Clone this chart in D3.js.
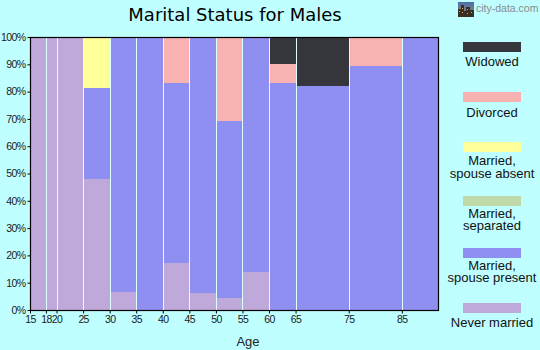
<!DOCTYPE html>
<html>
<head>
<meta charset="utf-8">
<script src="https://cdn.jsdelivr.net/npm/d3@7"></script>
<style>
html,body{margin:0;padding:0;background:#bfffff;}
svg{display:block;}
</style>
</head>
<body>
<script>
// ---- data ----
const groupLabels = ["15-17","18-19","20-24","25-29","30-34","35-39","40-44","45-49","50-54","55-59","60-64","65-74","75-84","85+"];
const groupStarts = [15,18,20,25,30,35,40,45,50,55,60,65,75,85];
const xEnd = 92;
const xTicks = [15,18,20,25,30,35,40,45,50,55,60,65,75,85];
const yTicks = [0,10,20,30,40,50,60,70,80,90,100];

const neverMarried  = [100,100,100,48,6.6,0,17.2,6.2,4.4,13.9,0,0,0,0];
const spousePresent = [0,0,0,33.4,93.4,100,66.1,93.8,64.9,86.1,83.3,82.2,89.5,100];
const separated     = [0,0,0,0,0,0,0,0,0,0,0,0,0,0];
const spouseAbsent  = [0,0,0,18.6,0,0,0,0,0,0,0,0,0,0];
const divorced      = [0,0,0,0,0,0,16.7,0,30.7,0,6.9,0,10.5,0];
const widowed       = [0,0,0,0,0,0,0,0,0,0,9.8,17.8,0,0];

const seriesNames = ["Never married","Married, spouse present","Married, separated","Married, spouse absent","Divorced","Widowed"];
const seriesColors = ["#bfa8da","#8f8ff2","#bfd9a8","#ffff99","#f9b2b2","#36373c"];
const seriesValues = [neverMarried, spousePresent, separated, spouseAbsent, divorced, widowed];

// ---- layout ----
const W = 540, H = 350;
const L = 30, R = 439, T = 37, B = 310;

const svg = d3.select("body").append("svg").attr("width", W).attr("height", H);
svg.append("rect").attr("width", W).attr("height", H).attr("fill", "#bfffff");

const x = d3.scaleLinear().domain([15, xEnd]).range([L, R]);
const y = d3.scaleLinear().domain([0, 100]).range([B, T]);

const rows = groupLabels.map((g, i) => {
  const o = {group: g, x0: groupStarts[i], x1: i < groupStarts.length - 1 ? groupStarts[i+1] : xEnd};
  seriesNames.forEach((s, k) => o[s] = seriesValues[k][i]);
  return o;
});
const stack = d3.stack().keys(seriesNames)(rows);

const plot = svg.append("g");
stack.forEach((layer, k) => {
  plot.selectAll(null).data(layer).enter().append("rect")
    .attr("x", d => x(d.data.x0))
    .attr("width", d => x(d.data.x1) - x(d.data.x0))
    .attr("y", d => y(d[1]))
    .attr("height", d => Math.max(0, y(d[0]) - y(d[1])))
    .attr("fill", seriesColors[k])
    .attr("shape-rendering", "crispEdges");
});

// separators
plot.selectAll(null).data(groupStarts.slice(1)).enter().append("line")
  .attr("x1", d => Math.round(x(d)) + 0.5).attr("x2", d => Math.round(x(d)) + 0.5)
  .attr("y1", T).attr("y2", B)
  .attr("stroke", "#dcffff").attr("stroke-width", 1);

// frame
svg.append("rect").attr("x", L + 0.5).attr("y", T + 0.5).attr("width", R - L - 1).attr("height", B - T)
  .attr("fill", "none").attr("stroke", "#000").attr("stroke-width", 1.2);

// axes
const fontTick = "'Liberation Sans', Arial, sans-serif";
const xAxis = svg.append("g").attr("transform", `translate(0,${B + 0.5})`)
  .call(d3.axisBottom(x).tickValues(xTicks).tickSize(3).tickPadding(2).tickFormat(d3.format("d")));
const yAxis = svg.append("g").attr("transform", `translate(${L + 0.5},0)`)
  .call(d3.axisLeft(y).tickValues(yTicks).tickSize(3).tickPadding(2).tickFormat(d => d + "%"));
[xAxis, yAxis].forEach(a => {
  a.select(".domain").remove();
  a.selectAll("line").attr("stroke", "#000");
  a.selectAll("text").attr("fill", "#1a1a1a").style("font-family", fontTick)
    .style("font-size", "10.5px").style("letter-spacing", "-0.6px");
});

// title
svg.append("text").attr("x", 235).attr("y", 21).attr("text-anchor", "middle")
  .style("font-family", "'DejaVu Sans', Verdana, sans-serif").style("font-size", "18px")
  .attr("fill", "#000").text("Marital Status for Males");

// x label
svg.append("text").attr("x", 248).attr("y", 346).attr("text-anchor", "middle")
  .style("font-family", fontTick).style("font-size", "13px").attr("fill", "#222").text("Age");

// legend
const legendItems = [
  {k: 5, ry: 42, lines: ["Widowed"], ty: 66},
  {k: 4, ry: 92, lines: ["Divorced"], ty: 116.5},
  {k: 3, ry: 142, lines: ["Married,", "spouse absent"], ty: 165},
  {k: 2, ry: 196, lines: ["Married,", "separated"], ty: 217.5},
  {k: 1, ry: 248, lines: ["Married,", "spouse present"], ty: 269.5},
  {k: 0, ry: 303, lines: ["Never married"], ty: 327}
];
const lg = svg.append("g");
legendItems.forEach(it => {
  lg.append("rect").attr("x", 463).attr("y", it.ry).attr("width", 58).attr("height", 10)
    .attr("fill", seriesColors[it.k]);
  it.lines.forEach((ln, j) => lg.append("text").attr("x", 492).attr("y", it.ty + j * 12.5)
    .attr("text-anchor", "middle")
    .style("font-family", fontTick).style("font-size", "13px").attr("fill", "#111").text(ln));
});

// watermark
const wm = svg.append("g");
const grad = svg.append("defs").append("linearGradient").attr("id", "sky").attr("x1", 0).attr("y1", 0).attr("x2", 0).attr("y2", 1);
grad.append("stop").attr("offset", "0%").attr("stop-color", "#4a6fa8");
grad.append("stop").attr("offset", "100%").attr("stop-color", "#9a8a70");
wm.append("rect").attr("x", 458).attr("y", 2).attr("width", 16).attr("height", 15).attr("fill", "url(#sky)");
[[458,9,3,8],[461,5,3,12],[464,11,2,6],[466,7,4,10],[470,10,4,7]].forEach(b =>
  wm.append("rect").attr("x", b[0]).attr("y", b[1]).attr("width", b[2]).attr("height", b[3]).attr("fill", "#3a2e22"));
[[459,11],[462,8],[462,12],[467,9],[467,13],[471,12]].forEach(p =>
  wm.append("rect").attr("x", p[0]).attr("y", p[1]).attr("width", 1).attr("height", 1).attr("fill", "#e0a040"));
wm.append("text").attr("x", 476).attr("y", 12).style("font-family", fontTick).style("font-size", "10.5px")
  .attr("fill", "#8a8a8a").text("city-data.com");
</script>
</body>
</html>
